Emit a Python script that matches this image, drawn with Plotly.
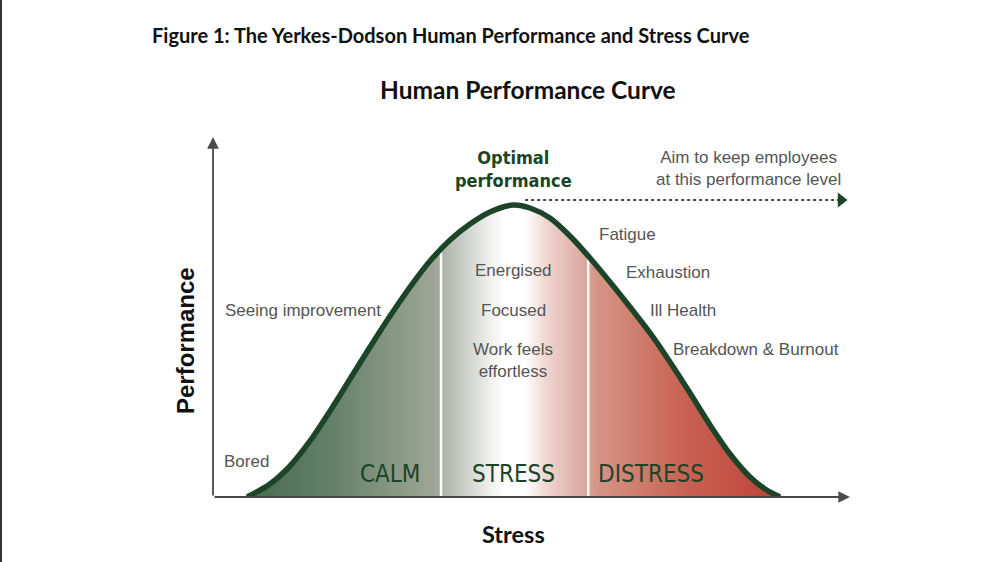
import plotly.graph_objects as go

# curve (stress 0-100 along x, performance 0-100 along y)
stress = [5.34, 8.95, 12.09, 15.23, 18.37, 21.51, 24.65, 27.79, 30.93, 34.07, 37.21,
          40.35, 43.49, 47.10, 49.76, 52.90, 56.04, 59.18, 62.32, 65.46, 68.60, 71.74,
          74.88, 78.02, 81.16, 84.30, 86.66, 89.01]
performance = [0.0, 3.61, 8.61, 15.56, 23.89, 32.78, 41.67, 50.28, 58.33, 65.56, 71.39,
               75.83, 79.17, 81.11, 80.28, 77.50, 72.50, 66.39, 59.72, 52.78, 45.56, 37.50,
               28.89, 20.00, 11.94, 5.56, 2.22, 0.0]

# zone borders (white lines) and where they meet the curve
zone_edges = [35.8, 58.9]
zone_tops = [68.0, 67.0]

zone_names = ["CALM", "STRESS", "DISTRESS"]
zone_centres = [27.8, 47.1, 68.8]

# target level (dotted arrow)
target_x = [49.0, 98.6]
target_y = [82.5, 82.5]

GREEN = "#1c4428"
GREY = "#555555"
COND = "DejaVu Sans Condensed, sans-serif"
HEAD = "Lato, DejaVu Sans Condensed, sans-serif"
SANS = "Liberation Sans, Arial, sans-serif"

fig = go.Figure()

# gradient fill under the curve
fig.add_trace(go.Scatter(
    x=stress, y=performance, mode="lines", line=dict(width=0, shape="spline", smoothing=0.8),
    fill="tozeroy",
    fillgradient=dict(
        type="horizontal", start=stress[0], stop=stress[-1],
        colorscale=[
            [0.0, "rgb(72,105,80)"],
            [0.156, "rgb(100,128,105)"],
            [0.358, "rgb(160,168,152)"],
            [0.373, "rgb(178,183,172)"],
            [0.456, "rgb(240,240,238)"],
            [0.484, "rgb(255,255,255)"],
            [0.522, "rgb(255,255,255)"],
            [0.559, "rgb(240,215,210)"],
            [0.634, "rgb(218,168,158)"],
            [0.653, "rgb(214,150,136)"],
            [0.812, "rgb(200,100,85)"],
            [1.0, "rgb(190,65,55)"],
        ],
    ),
    hoverinfo="skip", showlegend=False,
))

# white zone dividers
for xe, top in zip(zone_edges, zone_tops):
    fig.add_trace(go.Scatter(
        x=[xe, xe], y=[0, top], mode="lines",
        line=dict(color="white", width=2.5), hoverinfo="skip", showlegend=False,
    ))

# the curve itself
fig.add_trace(go.Scatter(
    x=stress, y=performance, mode="lines",
    line=dict(color=GREEN, width=5.5, shape="spline", smoothing=0.8),
    hoverinfo="skip", showlegend=False,
))

# dotted target line + head
fig.add_trace(go.Scatter(
    x=target_x, y=target_y, mode="lines",
    line=dict(color="#444444", width=2, dash="dot"),
    hoverinfo="skip", showlegend=False,
))
fig.add_trace(go.Scatter(
    x=target_x[-1:], y=target_y[-1:], mode="markers", cliponaxis=False,
    marker=dict(symbol="triangle-right", color=GREEN, size=13),
    hoverinfo="skip", showlegend=False,
))

# axes drawn as arrows
for tip in [(0, 100), (100, 0)]:
    fig.add_annotation(
        x=tip[0], y=tip[1], ax=0, ay=0, axref="x", ayref="y", xref="x", yref="y",
        text="", showarrow=True, arrowhead=2, arrowsize=1.3, arrowwidth=1.8,
        arrowcolor="#4a4a4a",
    )

# zone names
for name, xc in zip(zone_names, zone_centres):
    fig.add_annotation(x=xc, y=6.3, text=name, showarrow=False, yanchor="middle",
                       font=dict(family=COND, size=24, color=GREEN))


# labels inside / beside the curve
def label(x, y, text, anchor="left", size=17, color=GREY, family=SANS, ref="x", angle=0):
    fig.add_annotation(x=x, y=y, text=text, showarrow=False, xanchor=anchor,
                       yanchor="middle", xref=ref, yref=ref.replace("x", "y"),
                       textangle=angle, font=dict(family=family, size=size, color=color))


label(47.1, 62.8, "Energised", "center")
label(47.1, 51.7, "Focused", "center")
label(47.1, 37.8, "Work feels<br>effortless", "center")
label(1.6, 51.7, "Seeing improvement")
label(1.4, 10.0, "Bored")
label(60.3, 73.0, "Fatigue")
label(64.5, 62.5, "Exhaustion")
label(68.3, 51.9, "Ill Health")
label(71.9, 41.1, "Breakdown &amp; Burnout")
label(84.1, 91.3, "Aim to keep employees<br>at this performance level", "center")
label(47.1, 91.0, "<b>Optimal<br>performance</b>", "center", 18, GREEN, COND)

# titles (outside the axes, so placed on the paper)
label(-0.099, 1.283, "<b>Figure 1: The Yerkes-Dodson Human Performance and Stress Curve</b>",
      "left", 20, "#111111", HEAD, "paper")
label(0.4945, 1.131, "<b>Human Performance Curve</b>", "center", 24.5, "#111111", HEAD, "paper")
label(0.471, -0.103, "<b>Stress</b>", "center", 23.5, "#111111", HEAD, "paper")
label(-0.044, 0.436, "<b>Performance</b>", "center", 24, "#111111", SANS, "paper", -90)

# thin frame line at the left edge of the page
fig.add_shape(type="line", xref="paper", yref="paper",
              x0=-212 / 637, x1=-212 / 637, y0=-65 / 360, y1=1 + 137 / 360,
              line=dict(color="#333333", width=2))

fig.update_layout(
    width=1000, height=562,
    margin=dict(l=213, r=150, t=137, b=65),
    paper_bgcolor="white", plot_bgcolor="white",
    xaxis=dict(range=[0, 100], visible=False, fixedrange=True),
    yaxis=dict(range=[0, 100], visible=False, fixedrange=True),
)

fig.write_html("out.html", config={"displayModeBar": False},
               post_script="document.body.style.margin='0px';")
